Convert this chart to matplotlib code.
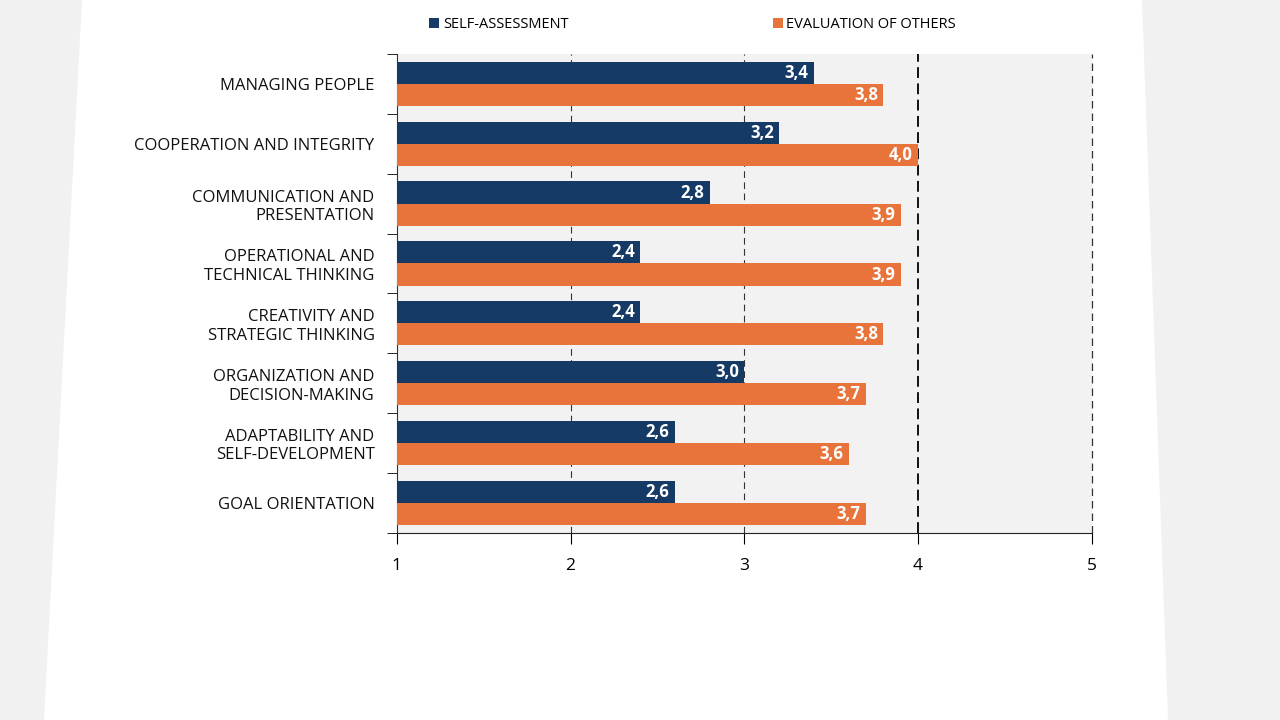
import matplotlib
matplotlib.use("Agg")
import matplotlib.pyplot as plt
import numpy as np
from matplotlib.patches import Polygon

plt.rcParams["font.family"] = ["Open Sans", "DejaVu Sans"]

categories = [
    "MANAGING PEOPLE",
    "COOPERATION AND INTEGRITY",
    "COMMUNICATION AND\nPRESENTATION",
    "OPERATIONAL AND\nTECHNICAL THINKING",
    "CREATIVITY AND\nSTRATEGIC THINKING",
    "ORGANIZATION AND\nDECISION-MAKING",
    "ADAPTABILITY AND\nSELF-DEVELOPMENT",
    "GOAL ORIENTATION",
]
self_assessment = [3.4, 3.2, 2.8, 2.4, 2.4, 3.0, 2.6, 2.6]
evaluation_others = [3.8, 4.0, 3.9, 3.9, 3.8, 3.7, 3.6, 3.7]
series_names = ["SELF-ASSESSMENT", "EVALUATION OF OTHERS"]
x_ticks = [1, 2, 3, 4, 5]

navy = "#163a66"
orange = "#e8743b"

fig = plt.figure(figsize=(12.8, 7.2), dpi=100, facecolor="#f1f1f1")
# white page behind the chart
page = Polygon([(82 / 1280, 1), (1142 / 1280, 1), (1168 / 1280, 0), (44 / 1280, 0)],
               closed=True, transform=fig.transFigure, facecolor="white",
               edgecolor="none", zorder=-10)
fig.add_artist(page)

ax = fig.add_axes([0.31, 0.26, 0.543, 0.665])
ax.set_zorder(5)
ax.set_facecolor("#f2f2f2")

y = np.arange(len(categories))
h = 0.37
b1 = ax.barh(y - h / 2, np.array(self_assessment) - 1, left=1, height=h,
             color=navy, label=series_names[0], zorder=3)
b2 = ax.barh(y + h / 2, np.array(evaluation_others) - 1, left=1, height=h,
             color=orange, label=series_names[1], zorder=3)

for bars, vals in [(b1, self_assessment), (b2, evaluation_others)]:
    for bar, v in zip(bars, vals):
        ax.text(v - 0.03, bar.get_y() + bar.get_height() / 2,
                f"{v:.1f}".replace(".", ","), ha="right", va="center",
                color="white", fontsize=12, fontweight="bold", zorder=4)

ax.set_xlim(1, 5)
ax.set_ylim(len(categories) - 0.5, -0.5)
ax.set_xticks(x_ticks)
ax.set_xticklabels([str(t) for t in x_ticks], fontsize=12.5)
ax.tick_params(axis="x", length=8, direction="out", pad=10)

ax.set_yticks(y)
ax.set_yticklabels(categories, fontsize=12, color="#111111",
                   linespacing=1.2)
ax.tick_params(axis="y", length=0, pad=16)
ax.set_yticks(np.arange(len(categories) + 1) - 0.5, minor=True)
ax.tick_params(axis="y", which="minor", length=7, direction="out")

for gx in [2, 3]:
    ax.axvline(gx, color="#333333", lw=0.8, ls=(0, (6, 4)), zorder=1)
ax.axvline(4, color="black", lw=1.3, ls=(0, (6, 3)), zorder=1)
ax.axvline(5, color="#333333", lw=0.9, ls=(0, (6, 4)), zorder=1, clip_on=False)

for s in ["top", "right"]:
    ax.spines[s].set_visible(False)
ax.spines["left"].set_color("#333333")
ax.spines["bottom"].set_color("#222222")

leg = fig.legend(handles=[b1, b2], labels=series_names, loc="upper left",
                 bbox_to_anchor=(0.325, 0.995), ncol=2, frameon=False,
                 fontsize=10.5, handlelength=0.7, handleheight=0.7,
                 handletextpad=0.25, columnspacing=14)
leg.set_zorder(6)

fig.savefig("out.png", dpi=100, facecolor=fig.get_facecolor())
